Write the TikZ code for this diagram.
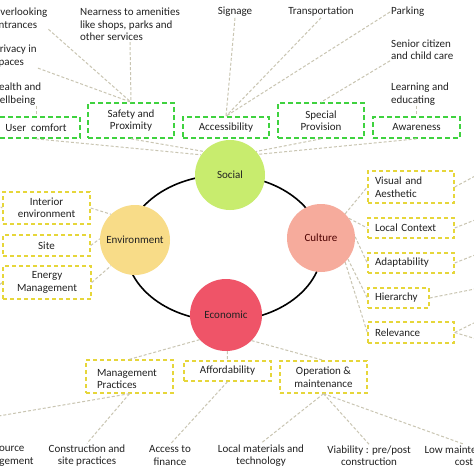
\documentclass[tikz,border=0pt]{standalone}
\usepackage{fontspec}
\setmainfont{Carlito}
\definecolor{boxgreen}{HTML}{3FD23F}
\definecolor{boxyellow}{HTML}{E6D63A}
\definecolor{connc}{HTML}{C9C5B2}
\definecolor{socialc}{HTML}{C8EC6E}
\definecolor{envc}{HTML}{F8DC88}
\definecolor{cultc}{HTML}{F6AB9C}
\definecolor{ecoc}{HTML}{EF5468}
\definecolor{txt}{HTML}{222222}
\newcommand\dfont{\fontsize{11}{12.5}\selectfont}
\tikzset{
  every node/.style={font=\dfont, text=txt},
  gbox/.style={draw=boxgreen, line width=1.7pt, dash pattern=on 5pt off 3pt, inner sep=0pt, align=center, minimum width=86pt},
  ybox/.style={draw=boxyellow, line width=1.4pt, dash pattern=on 4pt off 3pt, inner sep=0pt, align=center, minimum width=87pt},
  lbl/.style={inner sep=1pt},
  conn/.style={draw=connc, line width=1pt, dash pattern=on 3pt off 2pt},
  pillar/.style={circle, minimum size=70pt, inner sep=0pt},
  ring/.style={draw=black, line width=1.6pt}
}
\begin{document}
\begin{tikzpicture}[x=1pt,y=-1pt]
\useasboundingbox (0,0) rectangle (474,474);
\fill[white] (0,0) rectangle (474,474);

% ring
\draw[ring] (224,248) ellipse [x radius=98, y radius=73];

% pillars
\node[pillar, fill=socialc] (social) at (230,175) {Social};
\node[pillar, fill=envc] (env) at (135,240) {Environment};
\node[pillar, fill=cultc, minimum size=68pt, text=black!70!red] (cult) at (321,238) {Culture};
\node[pillar, fill=ecoc, minimum size=72pt] (eco) at (226,315) {Economic};

% top green boxes
\node[gbox, minimum width=88pt, minimum height=21pt] (uc) at (36,127.5) {User\ \ comfort};
\node[gbox, minimum height=35pt] (safety) at (131,120.5) {Safety and\\Proximity};
\node[gbox, minimum height=21pt] (acc) at (226,127.5) {Accessibility};
\node[gbox, minimum height=35pt] (spec) at (321,120.5) {Special\\Provision};
\node[gbox, minimum width=87pt, minimum height=21pt] (aw) at (416.5,127.5) {Awareness};

% top texts
\node[lbl, anchor=west, align=left] (over) at (-8,18) {Overlooking\\entrances};
\node[lbl, anchor=west, align=left] (priv) at (-7,56) {Privacy in\\spaces};
\node[lbl, anchor=west, align=left] (health) at (-9,94) {Health and\\wellbeing};
\node[lbl, anchor=west, align=left] (near) at (79,24.5) {Nearness to amenities\\like shops, parks and\\other services};
\node[lbl] (sign) at (235,12) {Signage};
\node[lbl] (trans) at (321,12) {Transportation};
\node[lbl, anchor=west] (park) at (390,12) {Parking};
\node[lbl, anchor=west, align=left] (senior) at (390,49.5) {Senior citizen\\and child care};
\node[lbl, anchor=west, align=left] (learn) at (390,94) {Learning and\\educating};

% left yellow boxes
\node[ybox, minimum height=32pt] (int) at (46.5,208) {Interior\\environment};
\node[ybox, minimum height=21pt] (site) at (46.5,245.5) {Site};
\node[ybox, minimum width=88pt, minimum height=33pt] (energy) at (47,282.5) {Energy\\Management};

% right yellow boxes
\node[ybox, minimum width=86pt, minimum height=32pt, text width=72pt, align=left] (vis) at (411,187) {Visual and\\Aesthetic};
\node[ybox, minimum width=86pt, minimum height=20pt, text width=72pt, align=left] (loc) at (411,228) {Local Context};
\node[ybox, minimum width=86pt, minimum height=20pt, text width=72pt, align=left] (adapt) at (411,263) {Adaptability};
\node[ybox, minimum width=61pt, minimum height=20pt, text width=47pt, align=left] (hier) at (398.5,298) {Hierarchy};
\node[ybox, minimum width=86pt, minimum height=21pt, text width=72pt, align=left] (rel) at (411,332.5) {Relevance};

% bottom yellow boxes
\node[ybox, minimum height=33pt, text width=65pt, align=left] (mgmt) at (129.5,376.5) {\ \,Management\\Practices};
\node[ybox, minimum height=20pt] (aff) at (227.5,371) {Affordability};
\node[ybox, minimum height=32pt] (op) at (323.5,377) {Operation \&\\maintenance};

% bottom texts
\node[lbl, align=center] (res) at (4,455.5) {Resource\\management};
\node[lbl, align=center] (cons) at (87,455.5) {Construction and\\site practices};
\node[lbl, align=center] (fin) at (170,455.5) {Access to\\finance};
\node[lbl, align=center] (local) at (261,455.5) {Local materials and\\technology};
\node[lbl, align=center] (via) at (369,455.5) {Viability : pre/post\\construction};
\node[lbl, align=center] (low) at (464,455.5) {Low maintenance\\cost};

% off-canvas coordinates
\coordinate (lA) at (-20,193);
\coordinate (lB) at (-20,300);
\coordinate (offL) at (-60,426);
\coordinate (r1) at (490,168);
\coordinate (r2) at (490,214);
\coordinate (r3) at (490,249);
\coordinate (r4) at (490,286);
\coordinate (r5) at (490,315);
\coordinate (r6) at (490,343);

% top connectors
\draw[conn] (over.south east) -- (safety.north);
\draw[conn] (priv.south east) -- (safety.north);
\draw[conn] (health.south -| uc.north) -- (uc.north);
\draw[conn] (near.south) -- (safety.north);
\draw[conn] (sign.south) -- (acc.north);
\draw[conn] (trans.south) -- (acc.north);
\draw[conn] (park.west) -- (acc.north);
\draw[conn] (senior.south west) -- (spec.north);
\draw[conn] (learn.south -| aw.north) -- (aw.north);

% boxes to social
\draw[conn] (uc.south) -- (social.145);
\draw[conn] (safety.south) -- (social.138);
\draw[conn] (spec.south) -- (social.42);
\draw[conn] (aw.south) -- (social.36);

% environment
\draw[conn] (int.east) -- (env.133);
\draw[conn] (site.east) -- (env.178);
\draw[conn] (energy.east) -- (env.227);
\draw[conn] (lA) -- (int.west);
\draw[conn] (lB) -- (energy.west);

% culture
\draw[conn] (cult.45) -- (vis.west);
\draw[conn] (cult.35) -- (loc.west);
\draw[conn] (cult.2) -- (adapt.west);
\draw[conn] (cult.-38) -- (hier.west);
\draw[conn] (cult.-45) -- (rel.west);
\draw[conn] (vis.east) -- (r1);
\draw[conn] (loc.east) -- (r2);
\draw[conn] (adapt.east) -- (r3);
\draw[conn] (hier.east) -- (r4);
\draw[conn] (rel.east) -- (r5);
\draw[conn] (rel.east) -- (r6);

% economic
\draw[conn] (eco.223) -- (mgmt.north);
\draw[conn] (eco.-88) -- (aff.north);
\draw[conn] (eco.-45) -- (op.north);
\draw[conn] (mgmt.south) -- (offL);
\draw[conn] (mgmt.south) -- (cons.north);
\draw[conn] (aff.south) -- (fin.north);
\draw[conn] (op.south) -- (local.north);
\draw[conn] (op.south) -- (via.north);
\draw[conn] (op.south) -- (low.north);
\end{tikzpicture}
\end{document}
